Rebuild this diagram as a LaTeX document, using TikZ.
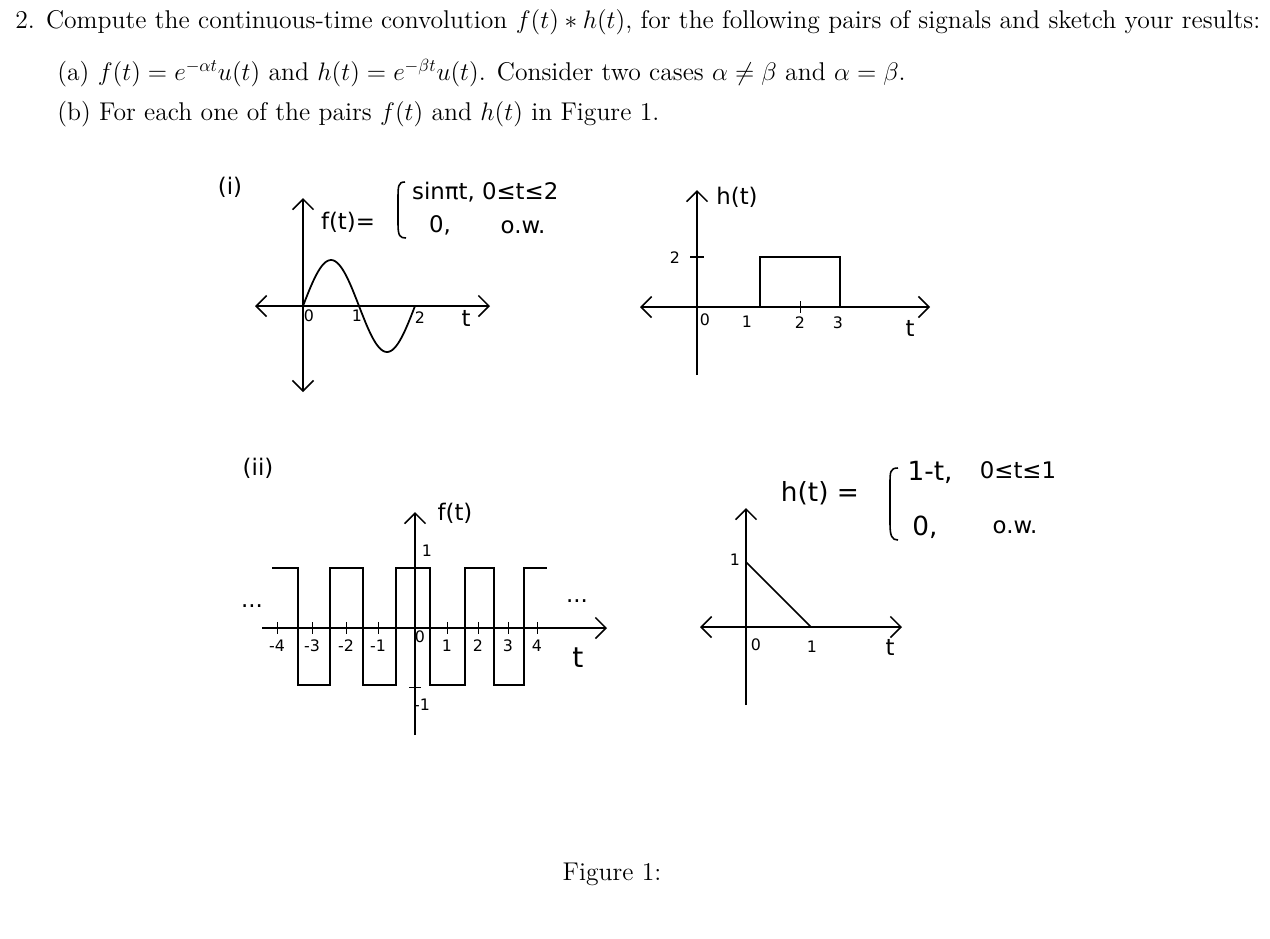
\documentclass[tikz,border=0pt]{standalone}
\usepackage{fontspec}
\usepackage{amsmath,amssymb}
\usetikzlibrary{arrows.meta}
\newfontfamily\hand{DejaVu Sans}
\begin{document}
\begin{tikzpicture}[x=0.02cm,y=-0.02cm,
  ax/.style={line width=0.9pt,-{Straight Barb[length=6pt]}},
  sig/.style={line width=1pt},
  hw/.style={font=\hand\fontsize{13}{15}\selectfont, inner sep=1pt},
  hs/.style={font=\hand\fontsize{9}{10}\selectfont, inner sep=1pt},
  tx/.style={font=\fontsize{14.6}{17}\selectfont, anchor=west, inner sep=0pt}]
\useasboundingbox (0,0) rectangle (1270,938);
\node[tx] (l1) at (15,22) {2. Compute the continuous-time convolution $f(t)*h(t)$, for the following pairs of signals and sketch your results:};
\node[tx] (l2) at (57,73) {(a) $f(t)=e^{-\alpha t}u(t)$ and $h(t)=e^{-\beta t}u(t)$. Consider two cases $\alpha\neq\beta$ and $\alpha=\beta$.};
\node[tx] (l3) at (57,114) {(b) For each one of the pairs $f(t)$ and $h(t)$ in Figure 1.};
% (i) f
\node[hw] (li) at (230,187) {(i)};
\coordinate (a1l) at (255,306); \coordinate (a1r) at (490,306);
\coordinate (a1t) at (303,198); \coordinate (a1b) at (303,392);
\draw[ax] (303,306) -- (a1r); \draw[ax] (303,306) -- (a1l);
\draw[ax] (303,306) -- (a1t); \draw[ax] (303,306) -- (a1b);
\draw[sig,domain=0:2,samples=60,smooth] plot ({303+56*\x},{306-46*sin(180*\x)});
\node[hs] (t0) at (309,316) {0}; \node[hs] (t1) at (357,316) {1};
\node[hs] (t2) at (420,318) {2}; \node[hw] (tt) at (466,318) {t};
\node[hw] (fe) at (348,222) {f(t)=};
\draw[line width=0.9pt] (405,182) .. controls (398,182) and (398,186) .. (398,200) -- (398,224) .. controls (398,236) and (400,238) .. (406,238);
\node[hw,anchor=west] (s1) at (410,192) {sinπt, 0≤t≤2};
\node[hw] (s2) at (440,225) {0,}; \node[hw] (s3) at (523,227) {o.w.};
% (i) h
\coordinate (b1l) at (640,307); \coordinate (b1r) at (930,307);
\coordinate (b1t) at (697,190);
\draw[ax] (697,307) -- (b1r); \draw[ax] (697,307) -- (b1l); \draw[ax] (697,375) -- (b1t);
\node[hw] (hl) at (737,197) {h(t)};
\draw[line width=0.9pt] (690,257) -- (704,257); \node[hs] (h2) at (675,258) {2};
\draw[sig] (760,307) -- (760,257) -- (840,257) -- (840,307);
\draw (800,301) -- (800,313);
\node[hs] (u0) at (705,320) {0}; \node[hs] (u1) at (747,322) {1};
\node[hs] (u2) at (800,323) {2}; \node[hs] (u3) at (838,323) {3};
\node[hw] (ut) at (910,328) {t};
% (ii) f
\node[hw] (lii) at (258,468) {(ii)};
\coordinate (c2l) at (262,628); \coordinate (c2r) at (607,628); \coordinate (c2t) at (415,512);
\draw[ax] (262,628) -- (c2r);
\draw[ax] (415,735) -- (c2t);
\draw[sig] (272,568) -- (298,568) -- (298,685) -- (330,685) -- (330,568) -- (363,568) -- (363,685) -- (396,685) -- (396,568) -- (430,568) -- (430,685) -- (465,685) -- (465,568) -- (494,568) -- (494,685) -- (524,685) -- (524,568) -- (547,568);
\foreach \x/\l in {277/-4,312/-3,346/-2,378/-1,447/1,478/2,508/3,537/4} {
  \draw (\x,622) -- (\x,634);
  \node[hs] at (\x,646) {\l};}
\node[hs] (v0) at (420,637) {0};
\draw (409,687) -- (421,687);
\node[hs] (v1) at (427,551) {1}; \node[hs] (vm) at (422,705) {-1};
\node[hw] (fl) at (455,513) {f(t)};
\node[hw] (d1) at (252,606) {...}; \node[hw] (d2) at (577,601) {...};
\node[hw,font=\hand\fontsize{16}{18}\selectfont] (vt) at (578,658) {t};
% (ii) h
\coordinate (d2l) at (700,627); \coordinate (d2r) at (902,627); \coordinate (d2t) at (746,508);
\draw[ax] (746,627) -- (d2r); \draw[ax] (746,627) -- (d2l); \draw[ax] (746,705) -- (d2t);
\draw[sig] (746,562) -- (811,627);
\node[hs] (w1) at (735,560) {1}; \node[hs] (w0) at (756,645) {0};
\node[hs] (w2) at (812,647) {1}; \node[hw] (wt) at (890,647) {t};
\node[hw,font=\hand\fontsize{15}{17}\selectfont] (he) at (820,493) {h(t) =};
\draw[line width=0.9pt] (898,468) .. controls (890,468) and (890,472) .. (890,484) -- (890,524) .. controls (890,536) and (892,540) .. (898,540);
\node[hw,font=\hand\fontsize{15}{17}\selectfont] (x1) at (930,472) {1-t,};
\node[hw] (x2) at (1018,470) {0≤t≤1};
\node[hw,font=\hand\fontsize{15}{17}\selectfont] (x3) at (925,527) {0,};
\node[hw] (x4) at (1015,527) {o.w.};
\node[tx,anchor=center] (cap) at (612,874) {Figure 1:};
\end{tikzpicture}
\end{document}
